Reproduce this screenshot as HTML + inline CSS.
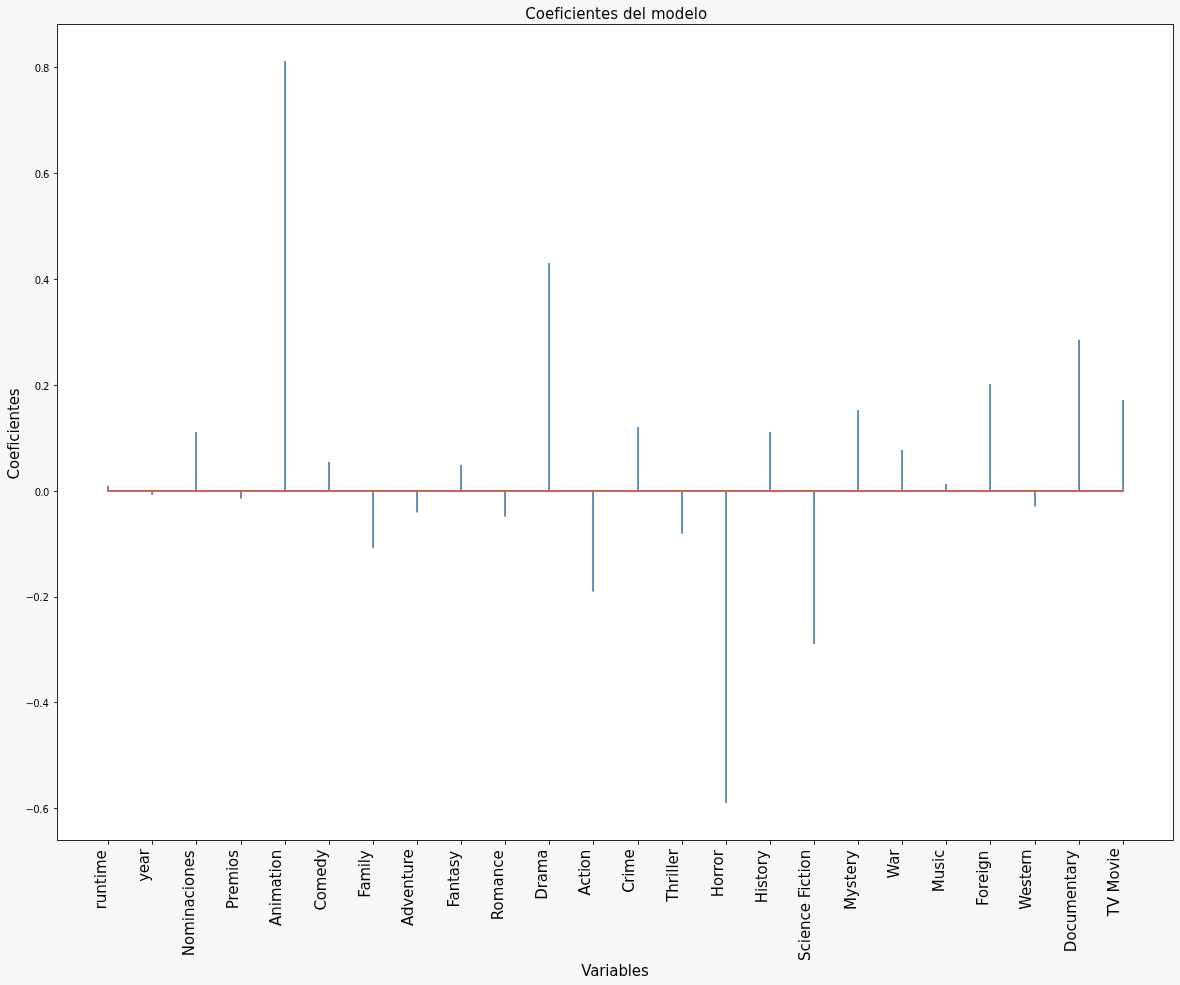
<!DOCTYPE html>
<html lang="es"><head><meta charset="utf-8"><title>Coeficientes del modelo</title>
<style>html,body{margin:0;padding:0;background:#f7f7f7;}body{width:1180px;height:985px;overflow:hidden;}svg{display:block;}text{font-family:"DejaVu Sans","Liberation Sans",sans-serif;fill:#000;}</style></head><body>
<svg width="1180" height="985" viewBox="0 0 1180 985">
<rect x="0" y="0" width="1180" height="985" fill="#f7f7f7"/>
<rect x="57.5" y="24.5" width="1116.0" height="816.0" fill="#ffffff"/>
<g fill="#6898c2">
<rect x="107" y="485.90" width="1" height="6.10"/>
<rect x="151" y="490.00" width="1" height="4.80"/>
<rect x="195" y="432.00" width="1" height="60.00"/>
<rect x="240" y="490.00" width="1" height="8.60"/>
<rect x="284" y="61.00" width="1" height="431.00"/>
<rect x="328" y="462.00" width="1" height="30.00"/>
<rect x="372" y="490.00" width="1" height="57.80"/>
<rect x="416" y="490.00" width="1" height="22.50"/>
<rect x="460" y="465.00" width="1" height="27.00"/>
<rect x="504" y="490.00" width="1" height="26.60"/>
<rect x="548" y="263.00" width="1" height="229.00"/>
<rect x="592" y="490.00" width="1" height="101.60"/>
<rect x="637" y="427.00" width="1" height="65.00"/>
<rect x="681" y="490.00" width="1" height="43.60"/>
<rect x="725" y="490.00" width="1" height="313.00"/>
<rect x="769" y="431.90" width="1" height="60.10"/>
<rect x="813" y="490.00" width="1" height="154.00"/>
<rect x="857" y="410.00" width="1" height="82.00"/>
<rect x="901" y="450.00" width="1" height="42.00"/>
<rect x="945" y="483.90" width="1" height="8.10"/>
<rect x="989" y="384.00" width="1" height="108.00"/>
<rect x="1034" y="490.00" width="1" height="16.60"/>
<rect x="1078" y="339.70" width="1" height="152.30"/>
<rect x="1122" y="400.00" width="1" height="92.00"/>
</g>
<g fill="#588cb4">
<rect x="108" y="485.90" width="1" height="6.10"/>
<rect x="152" y="490.00" width="1" height="4.80"/>
<rect x="196" y="432.00" width="1" height="60.00"/>
<rect x="241" y="490.00" width="1" height="8.60"/>
<rect x="285" y="61.00" width="1" height="431.00"/>
<rect x="329" y="462.00" width="1" height="30.00"/>
<rect x="373" y="490.00" width="1" height="57.80"/>
<rect x="417" y="490.00" width="1" height="22.50"/>
<rect x="461" y="465.00" width="1" height="27.00"/>
<rect x="505" y="490.00" width="1" height="26.60"/>
<rect x="549" y="263.00" width="1" height="229.00"/>
<rect x="593" y="490.00" width="1" height="101.60"/>
<rect x="638" y="427.00" width="1" height="65.00"/>
<rect x="682" y="490.00" width="1" height="43.60"/>
<rect x="726" y="490.00" width="1" height="313.00"/>
<rect x="770" y="431.90" width="1" height="60.10"/>
<rect x="814" y="490.00" width="1" height="154.00"/>
<rect x="858" y="410.00" width="1" height="82.00"/>
<rect x="902" y="450.00" width="1" height="42.00"/>
<rect x="946" y="483.90" width="1" height="8.10"/>
<rect x="990" y="384.00" width="1" height="108.00"/>
<rect x="1035" y="490.00" width="1" height="16.60"/>
<rect x="1079" y="339.70" width="1" height="152.30"/>
<rect x="1123" y="400.00" width="1" height="92.00"/>
</g>
<rect x="107" y="490" width="1017" height="2" fill="#ce605e"/>
<rect x="57.5" y="24.5" width="1116.0" height="816.0" fill="none" stroke="#262626" stroke-width="1"/>
<g stroke="#262626" stroke-width="1">
<line x1="108.5" y1="840.5" x2="108.5" y2="844.8"/>
<line x1="152.5" y1="840.5" x2="152.5" y2="844.8"/>
<line x1="196.5" y1="840.5" x2="196.5" y2="844.8"/>
<line x1="241.5" y1="840.5" x2="241.5" y2="844.8"/>
<line x1="285.5" y1="840.5" x2="285.5" y2="844.8"/>
<line x1="329.5" y1="840.5" x2="329.5" y2="844.8"/>
<line x1="373.5" y1="840.5" x2="373.5" y2="844.8"/>
<line x1="417.5" y1="840.5" x2="417.5" y2="844.8"/>
<line x1="461.5" y1="840.5" x2="461.5" y2="844.8"/>
<line x1="505.5" y1="840.5" x2="505.5" y2="844.8"/>
<line x1="549.5" y1="840.5" x2="549.5" y2="844.8"/>
<line x1="593.5" y1="840.5" x2="593.5" y2="844.8"/>
<line x1="638.5" y1="840.5" x2="638.5" y2="844.8"/>
<line x1="682.5" y1="840.5" x2="682.5" y2="844.8"/>
<line x1="726.5" y1="840.5" x2="726.5" y2="844.8"/>
<line x1="770.5" y1="840.5" x2="770.5" y2="844.8"/>
<line x1="814.5" y1="840.5" x2="814.5" y2="844.8"/>
<line x1="858.5" y1="840.5" x2="858.5" y2="844.8"/>
<line x1="902.5" y1="840.5" x2="902.5" y2="844.8"/>
<line x1="946.5" y1="840.5" x2="946.5" y2="844.8"/>
<line x1="990.5" y1="840.5" x2="990.5" y2="844.8"/>
<line x1="1035.5" y1="840.5" x2="1035.5" y2="844.8"/>
<line x1="1079.5" y1="840.5" x2="1079.5" y2="844.8"/>
<line x1="1123.5" y1="840.5" x2="1123.5" y2="844.8"/>
<line x1="54.1" y1="67.5" x2="57.5" y2="67.5"/>
<line x1="54.1" y1="173.5" x2="57.5" y2="173.5"/>
<line x1="54.1" y1="279.5" x2="57.5" y2="279.5"/>
<line x1="54.1" y1="385.5" x2="57.5" y2="385.5"/>
<line x1="54.1" y1="491.5" x2="57.5" y2="491.5"/>
<line x1="54.1" y1="597.5" x2="57.5" y2="597.5"/>
<line x1="54.1" y1="702.5" x2="57.5" y2="702.5"/>
<line x1="54.1" y1="808.5" x2="57.5" y2="808.5"/>
</g>
<g font-size="10" text-anchor="end">
<text x="48.62" y="71.90" letter-spacing="-0.72">0.8</text>
<text x="48.62" y="177.90" letter-spacing="-0.72">0.6</text>
<text x="48.62" y="283.90" letter-spacing="-0.72">0.4</text>
<text x="48.62" y="389.90" letter-spacing="-0.72">0.2</text>
<text x="48.62" y="495.90" letter-spacing="-0.72">0.0</text>
<text x="48.62" y="600.90" letter-spacing="-0.15"><tspan letter-spacing="-0.70">−</tspan>0.2</text>
<text x="48.62" y="706.90" letter-spacing="-0.15"><tspan letter-spacing="-0.70">−</tspan>0.4</text>
<text x="48.62" y="812.90" letter-spacing="-0.15"><tspan letter-spacing="-0.70">−</tspan>0.6</text>
</g>
<g font-size="15" text-anchor="end">
<text transform="translate(106.00,850.22) rotate(-90)" textLength="59.15" lengthAdjust="spacing">runtime</text>
<text transform="translate(149.00,849.20) rotate(-90)" textLength="32.53" lengthAdjust="spacing">year</text>
<text transform="translate(194.00,850.33) rotate(-90)" textLength="105.85" lengthAdjust="spacing">Nominaciones</text>
<text transform="translate(238.00,850.02) rotate(-90)" textLength="59.21" lengthAdjust="spacing">Premios</text>
<text transform="translate(281.00,849.84) rotate(-90)" textLength="76.07" lengthAdjust="spacing">Animation</text>
<text transform="translate(326.00,849.55) rotate(-90)" textLength="61.00" lengthAdjust="spacing">Comedy</text>
<text transform="translate(370.00,850.31) rotate(-90)" textLength="47.41" lengthAdjust="spacing">Family</text>
<text transform="translate(413.00,849.33) rotate(-90)" textLength="76.58" lengthAdjust="spacing">Adventure</text>
<text transform="translate(459.00,850.77) rotate(-90)" textLength="56.71" lengthAdjust="spacing">Fantasy</text>
<text transform="translate(503.00,850.22) rotate(-90)" textLength="70.05" lengthAdjust="spacing">Romance</text>
<text transform="translate(547.00,849.44) rotate(-90)" textLength="50.40" lengthAdjust="spacing">Drama</text>
<text transform="translate(590.00,849.84) rotate(-90)" textLength="45.57" lengthAdjust="spacing">Action</text>
<text transform="translate(634.00,849.33) rotate(-90)" textLength="43.48" lengthAdjust="spacing">Crime</text>
<text transform="translate(678.00,849.00) rotate(-90)" textLength="52.83" lengthAdjust="spacing">Thriller</text>
<text transform="translate(723.00,850.20) rotate(-90)" textLength="46.99" lengthAdjust="spacing">Horror</text>
<text transform="translate(767.00,850.31) rotate(-90)" textLength="52.98" lengthAdjust="spacing">History</text>
<text transform="translate(810.00,849.84) rotate(-90)" textLength="111.05" lengthAdjust="spacing">Science Fiction</text>
<text transform="translate(856.00,850.31) rotate(-90)" textLength="59.79" lengthAdjust="spacing">Mystery</text>
<text transform="translate(899.00,849.60) rotate(-90)" textLength="28.83" lengthAdjust="spacing">War</text>
<text transform="translate(944.00,849.67) rotate(-90)" textLength="42.61" lengthAdjust="spacing">Music</text>
<text transform="translate(988.00,850.73) rotate(-90)" textLength="55.39" lengthAdjust="spacing">Foreign</text>
<text transform="translate(1031.00,849.43) rotate(-90)" textLength="60.31" lengthAdjust="spacing">Western</text>
<text transform="translate(1076.00,850.37) rotate(-90)" textLength="101.77" lengthAdjust="spacing">Documentary</text>
<text transform="translate(1119.00,848.36) rotate(-90)" textLength="67.95" lengthAdjust="spacing">TV Movie</text>
</g>
<text x="616.10" y="19.00" font-size="15" text-anchor="middle" textLength="181.95" lengthAdjust="spacing">Coeficientes del modelo</text>
<text x="615.00" y="976.00" font-size="15" text-anchor="middle" textLength="67.56" lengthAdjust="spacing">Variables</text>
<text transform="translate(19.30,433.85) rotate(-90)" font-size="15" text-anchor="middle" textLength="91.10" lengthAdjust="spacing">Coeficientes</text>
</svg></body></html>
